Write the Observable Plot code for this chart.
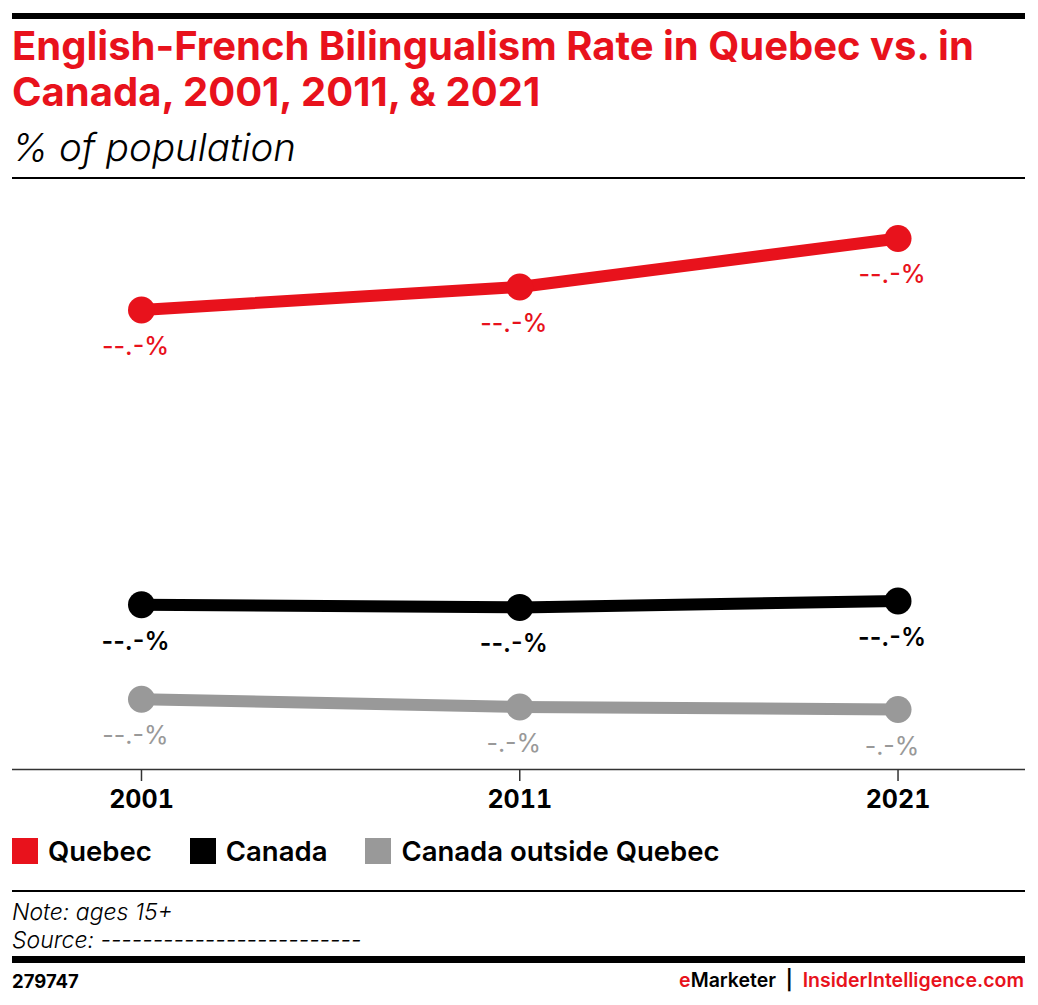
<!DOCTYPE html>
<html>
<head>
<meta charset="utf-8">
<script src="https://cdn.jsdelivr.net/npm/d3@7"></script>
<script src="https://cdn.jsdelivr.net/npm/@observablehq/plot@0.6"></script>
<style>
  html, body { margin: 0; padding: 0; background: #fff; }
  body { width: 1038px; height: 1005px; position: relative; font-family: Inter, "Open Sans", sans-serif; overflow: hidden; }
  .abs { position: absolute; white-space: nowrap; }
  .bar { position: absolute; left: 12px; width: 1013px; background: #000; }
  #title { left: 12px; top: 23px; font-size: 40px; font-weight: 700; color: #e8121c; line-height: 46px; letter-spacing: 0px; }
  #subtitle { left: 12px; top: 125px; font-size: 38.5px; font-style: italic; font-weight: 300; color: #000; line-height: 44px; }
  #chart { left: 0; top: 180px; }
  #legend { left: 12px; top: 834px; display: flex; align-items: center; font-size: 27.5px; font-weight: 600; }
  .item { display: flex; align-items: center; margin-right: 38px; }
  .sw { width: 26px; height: 26px; margin-right: 10px; }
  #note { left: 12px; top: 898px; font-size: 23px; font-style: italic; font-weight: 300; line-height: 28px; }
  #id { left: 12px; top: 970px; font-size: 18.5px; font-weight: 700; }
  #brand { right: 14px; top: 968px; font-size: 19.5px; font-weight: 600; }
</style>
</head>
<body>
<div class="bar" style="top:13px;height:6px;"></div>
<div id="title" class="abs">English-French Bilingualism Rate in Quebec vs. in<br>Canada, 2001, 2011, &amp; 2021</div>
<div id="subtitle" class="abs">% of population</div>
<div class="bar" style="top:177px;height:2px;"></div>
<div id="chart" class="abs"></div>
<div id="legend" class="abs"></div>
<div class="bar" style="top:890px;height:2px;"></div>
<div id="note" class="abs">Note: ages 15+<br>Source: -------------------------</div>
<div class="bar" style="top:956px;height:7px;"></div>
<div id="id" class="abs">279747</div>
<div id="brand" class="abs"><span style="color:#e8121c">e</span>Marketer&nbsp;&nbsp;|&nbsp;&nbsp;<span style="color:#e8121c">InsiderIntelligence.com</span></div>
<script>
const years = [2001, 2011, 2021];
const seriesNames = ["Quebec", "Canada", "Canada outside Quebec"];
const seriesColors = ["#e8121c", "#000000", "#999999"];
const quebecValues = [40.8, 42.6, 46.4];
const canadaValues = [17.7, 17.5, 18.0];
const outsideValues = [10.3, 9.7, 9.5];
const quebecLabels = ["--.-%", "--.-%", "--.-%"];
const canadaLabels = ["--.-%", "--.-%", "--.-%"];
const outsideLabels = ["--.-%", "-.-%", "-.-%"];

const valueSets = [quebecValues, canadaValues, outsideValues];
const labelSets = [quebecLabels, canadaLabels, outsideLabels];
const labelWeights = [500, 600, 400];

const data = [];
seriesNames.forEach((s, i) => {
  years.forEach((y, j) => {
    data.push({series: s, year: y, value: valueSets[i][j], label: labelSets[i][j], idx: i});
  });
});
// draw order: back to front
const order = [2, 1, 0];

const marks = [
  Plot.ruleY([4.8], {stroke: "#333", strokeWidth: 1.5}),
  Plot.axisX({ticks: years, tickFormat: d3.format("d"), tickSize: 12, tickPadding: 9, fontSize: 25, fontWeight: 700, stroke: "#333", strokeWidth: 1.5, fill: "#000", label: null}),
];
order.forEach(i => {
  const d = data.filter(r => r.idx === i);
  marks.push(Plot.line(d, {x: "year", y: "value", stroke: seriesColors[i], strokeWidth: 12}));
  marks.push(Plot.dot(d, {x: "year", y: "value", r: 13.5, fill: seriesColors[i], stroke: "none"}));
  marks.push(Plot.text(d, {x: "year", y: "value", text: "label", fill: seriesColors[i], fontSize: 25, fontWeight: labelWeights[i], lineAnchor: "bottom", dy: 45, dx: -6}));
});

const chart = Plot.plot({
  width: 1038,
  height: 640,
  marginLeft: 12,
  marginRight: 13,
  marginTop: 12,
  marginBottom: 51,
  style: {fontFamily: "Inter, sans-serif", color: "#000", background: "transparent"},
  x: {type: "linear", domain: [1997.59, 2024.37], label: null},
  y: {domain: [4.8, 50], axis: null},
  marks
});
document.getElementById("chart").appendChild(chart);

const legend = document.getElementById("legend");
seriesNames.forEach((s, i) => {
  const item = document.createElement("div");
  item.className = "item";
  item.innerHTML = `<div class="sw" style="background:${seriesColors[i]}"></div><span>${s}</span>`;
  legend.appendChild(item);
});
</script>
</body>
</html>
